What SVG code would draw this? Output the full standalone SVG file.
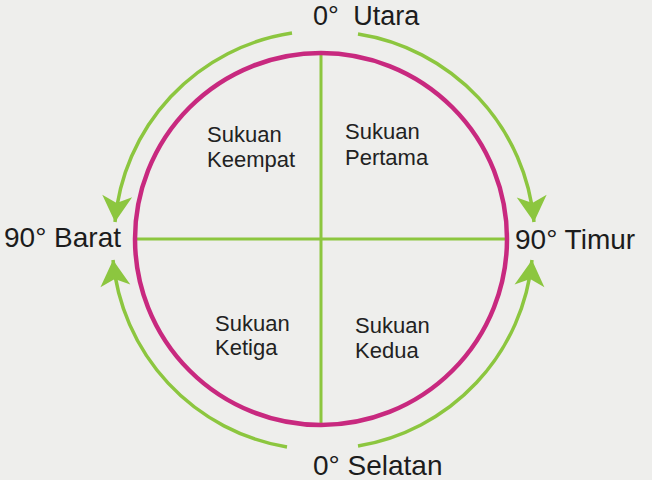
<svg xmlns="http://www.w3.org/2000/svg" width="652" height="480" viewBox="0 0 652 480">
  <style>
    .lbl { font-family: "Liberation Sans", Arial, sans-serif; font-size: 28px; fill: #1c1c1c; }
    .q { font-family: "Liberation Sans", Arial, sans-serif; font-size: 22px; fill: #222222; }
    .arc { fill: none; stroke: #8cc63f; stroke-width: 3.5; marker-end: url(#ah); }
    .axis { stroke: #8cc63f; stroke-width: 3; fill: none; }
    .ring { fill: none; stroke: #c8297f; stroke-width: 4.5; }
  </style>
  <defs>
    <marker id="ah" markerUnits="userSpaceOnUse" markerWidth="32" markerHeight="32" viewBox="-28 -16 30 32" refX="0" refY="0" orient="auto" overflow="visible">
      <path d="M0,0 L-26,-15 L-19,0 L-26,15 Z" fill="#8cc63f"/>
    </marker>
  </defs>
  <rect x="0" y="0" width="652" height="480" fill="#eeeeec"/>

  <g id="connectors">
    <path class="arc" d="M 292 33 A 209 209 0 0 0 115 222"/>
    <path class="arc" d="M 358 34 A 209 209 0 0 1 534 222"/>
    <path class="arc" d="M 287 447 A 209 209 0 0 1 113 260"/>
    <path class="arc" d="M 358 446 A 209 209 0 0 0 532 260"/>
  </g>

  <g id="compass">
    <line class="axis" x1="321" y1="53" x2="321" y2="425"/>
    <line class="axis" x1="135" y1="239" x2="507" y2="239"/>
    <circle class="ring" cx="321" cy="239" r="186"/>
  </g>

  <g id="north"><text class="lbl" x="313" y="25" style="font-size:27px">0° <tspan dx="7">Utara</tspan></text></g>
  <g id="south"><text class="lbl" x="313" y="475">0° Selatan</text></g>
  <g id="west"><text class="lbl" x="4" y="247">90° Barat</text></g>
  <g id="east"><text class="lbl" x="515" y="249">90° Timur</text></g>

  <g id="q4"><text class="q" x="207" y="142">Sukuan</text><text class="q" x="207" y="167">Keempat</text></g>
  <g id="q1"><text class="q" x="345" y="139">Sukuan</text><text class="q" x="345" y="165">Pertama</text></g>
  <g id="q3"><text class="q" x="215" y="331">Sukuan</text><text class="q" x="215" y="355">Ketiga</text></g>
  <g id="q2"><text class="q" x="355" y="333">Sukuan</text><text class="q" x="355" y="358">Kedua</text></g>
</svg>
